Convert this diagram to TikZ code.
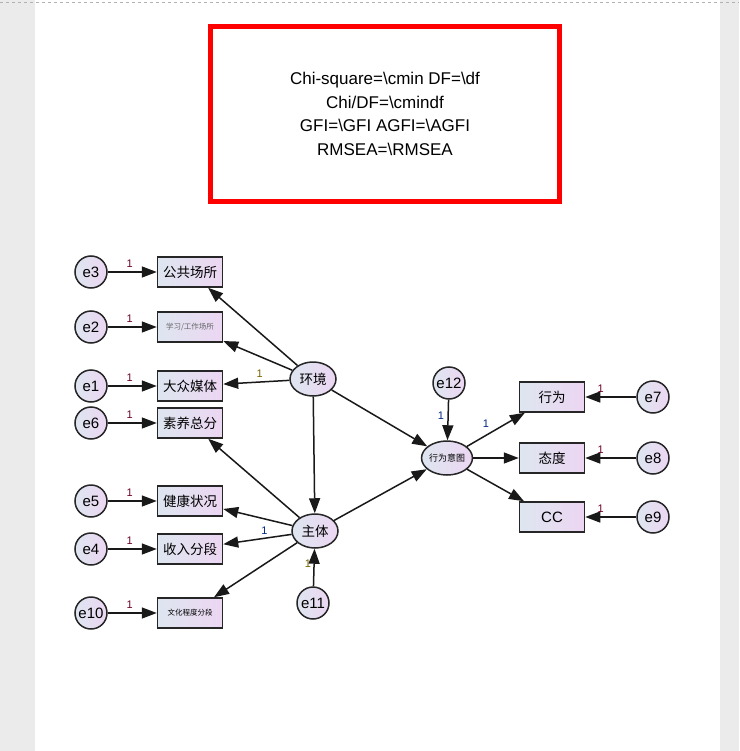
\documentclass[tikz,border=0pt]{standalone}
\usepackage{fontspec}
\setmainfont{Liberation Sans}
\newfontfamily\cjk{Noto Sans CJK SC}
\usetikzlibrary{arrows.meta,shapes.geometric}
\definecolor{fa}{RGB}{222,230,240}
\definecolor{fb}{RGB}{236,214,242}
\definecolor{lr}{RGB}{110,0,40}
\definecolor{lo}{RGB}{120,100,0}
\definecolor{lb}{RGB}{0,40,130}
\tikzset{
 sh/.style={draw=black!85,line width=1.5pt,left color=fa,right color=fb},
 obs/.style={sh,rectangle,minimum width=65pt,minimum height=30pt,inner sep=0pt,font=\cjk\fontsize{13.5}{13.5}\selectfont},
 lat/.style={sh,ellipse,minimum width=46pt,minimum height=34pt,inner sep=0pt,font=\cjk\fontsize{13.5}{13.5}\selectfont},
 err/.style={sh,circle,minimum size=32pt,inner sep=0pt,font=\fontsize{15}{15}\selectfont},
 ar/.style={-{Triangle[length=15pt,width=11pt]},line width=1.5pt,black!90},
 one/.style={font=\fontsize{11}{11}\selectfont,text=#1},
}
\begin{document}
\begin{tikzpicture}[x=1pt,y=-1pt]
\useasboundingbox (0,0) rectangle (739,751);
\fill[black!8] (0,0) rectangle (739,751);
\fill[white] (35,0) rectangle (720,751);
\draw[black!30,dashed] (0,2) -- (739,2);
\node[draw=red,line width=5pt,minimum width=349pt,minimum height=175pt,align=center,font=\fontsize{17}{23.5}\selectfont] (fit) at (385,114)
 {Chi-square=\textbackslash cmin DF=\textbackslash df\\Chi/DF=\textbackslash cmindf\\GFI=\textbackslash GFI AGFI=\textbackslash AGFI\\RMSEA=\textbackslash RMSEA};
% observed left
\node[obs] (o3) at (190,272) {公共场所};
\node[obs,font=\cjk\fontsize{7.5}{7.5}\selectfont,text=black!60] (o2) at (190,327) {学习/工作场所};
\node[obs] (o1) at (190,386) {大众媒体};
\node[obs] (o6) at (190,423) {素养总分};
\node[obs] (o5) at (190,501) {健康状况};
\node[obs] (o4) at (190,549) {收入分段};
\node[obs,font=\cjk\fontsize{7.5}{7.5}\selectfont] (o10) at (190,613) {文化程度分段};
\foreach \n/\y in {3/272,2/327,1/386,6/423,5/501,4/549,10/613}{
 \node[err] (e\n) at (91,\y) {e\n};
 \draw[ar] (e\n) -- (o\n) node[pos=0.45,above,one=lr]{1};
}
% latents
\node[lat] (hj) at (313,379) {环境};
\node[lat] (zt) at (315,531) {主体};
\node[lat,font=\cjk\fontsize{9}{9}\selectfont,minimum width=44pt] (xw) at (447,458) {行为意图};
\node[err] (e11) at (313,603) {e11};
\node[err] (e12) at (449,383) {e12};
% right observed
\node[obs] (r1) at (552,397) {行为};
\node[obs] (r2) at (552,458) {态度};
\node[obs,font=\fontsize{15}{15}\selectfont] (r3) at (552,517) {CC};
\node[err] (e7) at (653,397) {e7};
\node[err] (e8) at (653,458) {e8};
\node[err] (e9) at (653,517) {e9};
% paths
\draw[ar] (hj) -- (o3);
\draw[ar] (hj) -- (o2);
\draw[ar] (hj) -- (o1) node[pos=0.45,above,one=lo]{1};
\draw[ar] (zt) -- (o6);
\draw[ar] (zt) -- (o5);
\draw[ar] (zt) -- (o4) node[pos=0.4,above,one=lb]{1};
\draw[ar] (zt) -- (o10);
\draw[ar] (hj) -- (zt);
\draw[ar] (hj) -- (xw);
\draw[ar] (zt) -- (xw);
\draw[ar] (e11) -- (zt) node[pos=0.6,left=-1pt,one=lo]{1};
\draw[ar] (e12) -- (xw) node[pos=0.4,left,one=lb]{1};
\draw[ar] (xw) -- (r1) node[pos=0.45,above left,one=lb]{1};
\draw[ar] (xw) -- (r2);
\draw[ar] (xw) -- (r3);
\foreach \i/\e in {1/7,2/8,3/9}{
 \draw[ar] (e\e) -- (r\i) node[pos=0.7,above,one=lr]{1};
}
\end{tikzpicture}
\end{document}
